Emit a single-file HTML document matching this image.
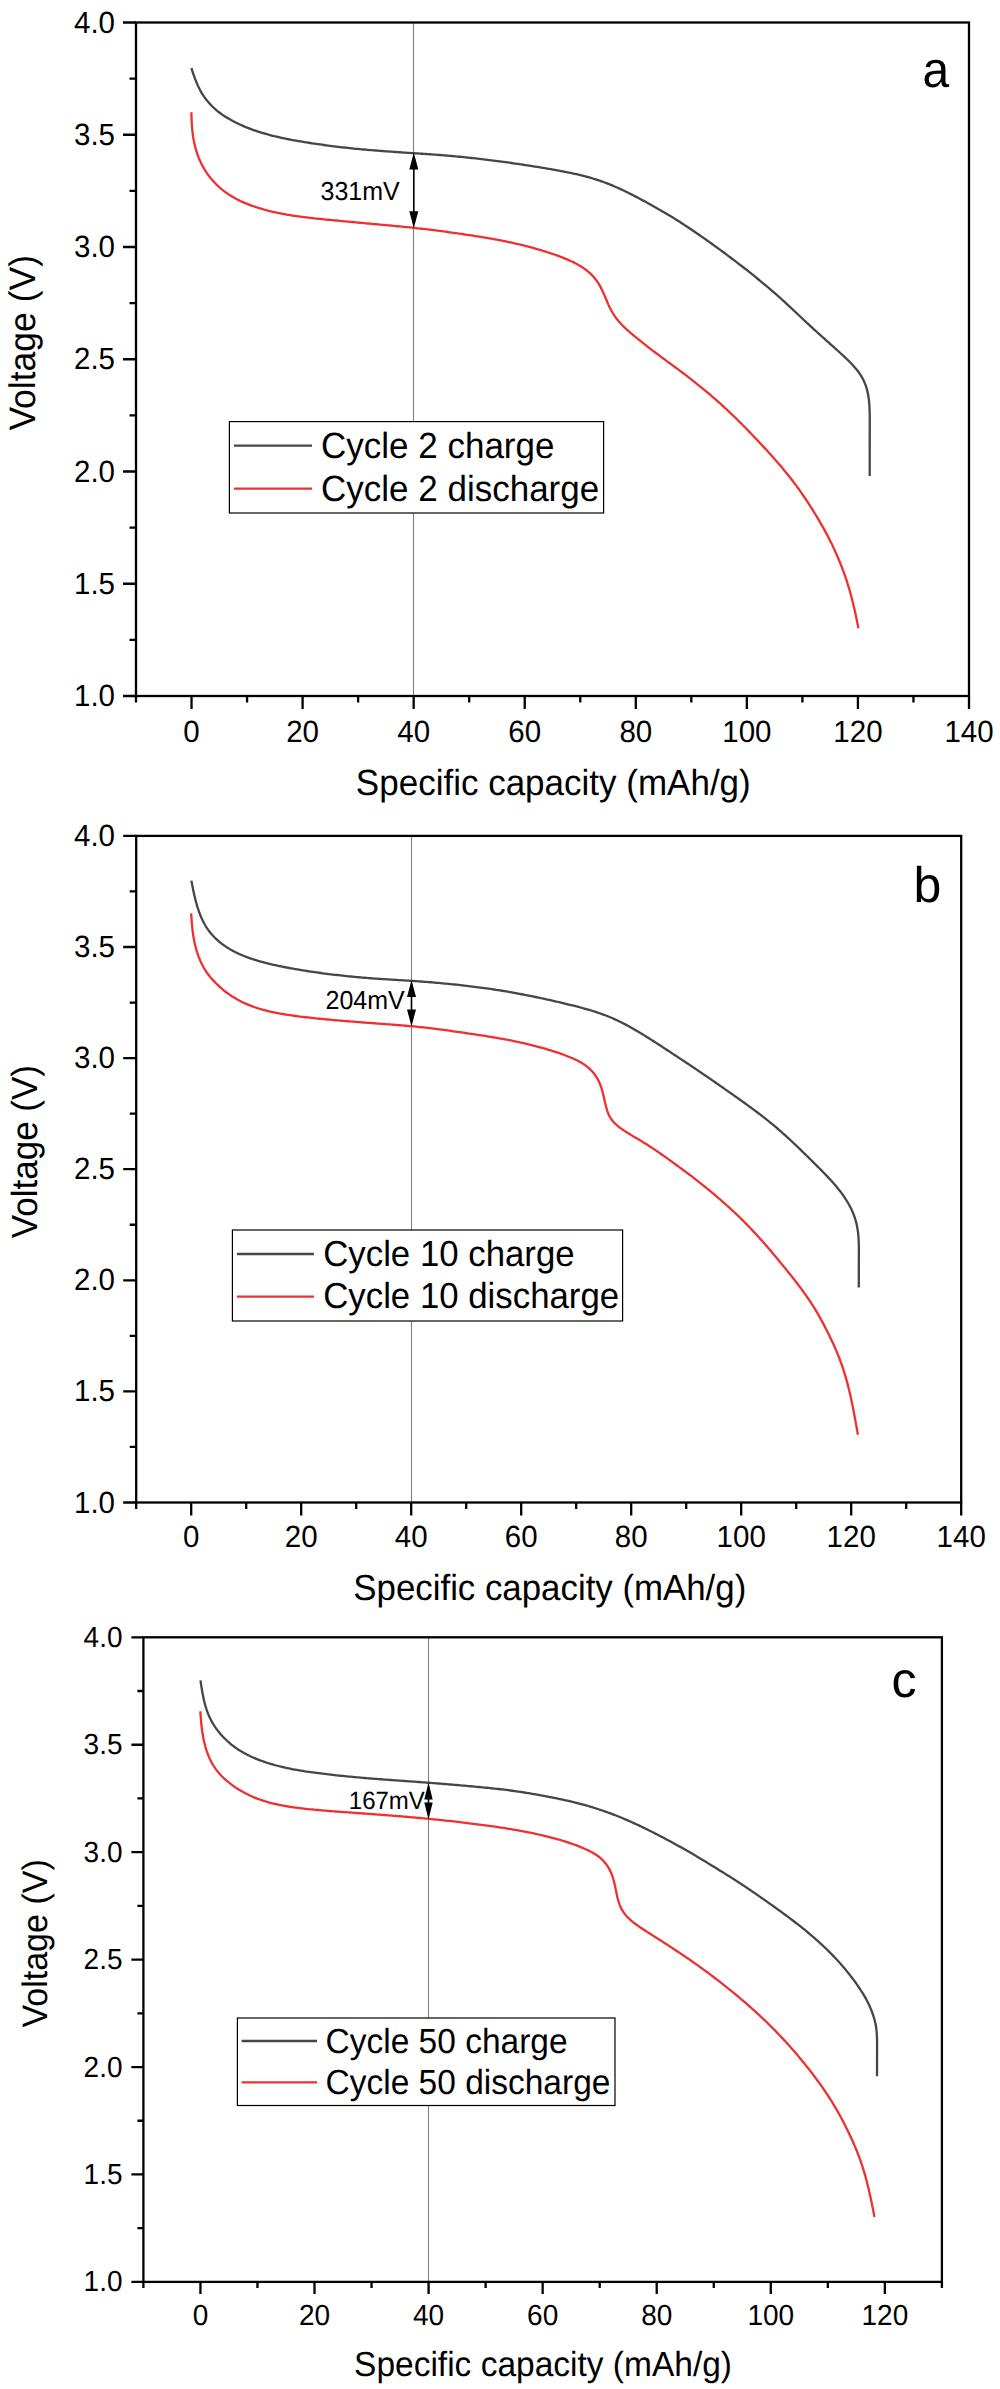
<!DOCTYPE html>
<html><head><meta charset="utf-8"><style>
html,body{margin:0;padding:0;background:#fff;}
body{width:1000px;height:2389px;overflow:hidden;font-family:"Liberation Sans", sans-serif;}
svg{display:block;}
</style></head><body>
<svg width="1000" height="2389" viewBox="0 0 1000 2389" font-family='"Liberation Sans", sans-serif' fill="#000" text-rendering="geometricPrecision">
<rect width="1000" height="2389" fill="#fff"/>
<line x1="413.5" y1="22.5" x2="413.5" y2="696" stroke="#808080" stroke-width="1.1"/>
<path d="M191.35,68.02L191.98,69.94L192.62,71.85L193.26,73.76L193.93,75.66L194.60,77.55L195.31,79.43L196.04,81.29L196.80,83.14L197.59,84.98L198.43,86.79L199.31,88.58L200.23,90.34L201.20,92.08L202.23,93.79L203.30,95.47L204.43,97.12L205.60,98.73L206.82,100.31L208.08,101.86L209.39,103.37L210.75,104.84L212.14,106.27L213.58,107.65L215.05,108.99L216.57,110.29L218.12,111.55L219.70,112.76L221.31,113.94L222.96,115.08L224.62,116.19L226.31,117.27L228.02,118.31L229.75,119.32L231.50,120.30L233.27,121.26L235.05,122.18L236.84,123.08L238.65,123.95L240.47,124.80L242.30,125.62L244.14,126.42L246.00,127.19L247.86,127.94L249.73,128.66L251.61,129.37L253.50,130.05L255.40,130.70L257.31,131.34L259.22,131.96L261.13,132.55L263.06,133.13L264.98,133.69L266.92,134.23L268.85,134.76L270.80,135.27L272.74,135.77L274.69,136.25L276.64,136.72L278.59,137.17L280.55,137.61L282.51,138.04L284.47,138.46L286.44,138.86L288.40,139.25L290.37,139.64L292.34,140.01L294.32,140.37L296.29,140.72L298.26,141.07L300.24,141.40L302.22,141.73L304.20,142.06L306.18,142.37L308.16,142.69L310.14,142.99L312.12,143.29L314.10,143.59L316.08,143.88L318.07,144.17L320.05,144.45L322.03,144.73L324.02,145.01L326.00,145.28L327.99,145.55L329.98,145.81L331.96,146.07L333.95,146.32L335.94,146.57L337.93,146.81L339.92,147.05L341.90,147.28L343.89,147.51L345.89,147.73L347.88,147.95L349.87,148.17L351.86,148.37L353.85,148.58L355.85,148.78L357.84,148.97L359.83,149.16L361.83,149.34L363.82,149.52L365.82,149.70L367.81,149.87L369.81,150.04L371.80,150.21L373.80,150.37L375.80,150.52L377.80,150.68L379.79,150.83L381.79,150.98L383.79,151.13L385.79,151.28L387.78,151.43L389.78,151.57L391.78,151.71L393.78,151.85L395.78,151.99L397.78,152.13L399.77,152.26L401.77,152.40L403.77,152.53L405.77,152.67L407.77,152.80L409.77,152.93L411.77,153.07L413.77,153.20L415.77,153.33L417.76,153.46L419.76,153.59L421.76,153.73L423.76,153.86L425.76,154.00L427.76,154.13L429.76,154.27L431.76,154.41L433.75,154.56L435.75,154.70L437.75,154.85L439.75,155.01L441.74,155.16L443.74,155.32L445.73,155.49L447.73,155.66L449.73,155.83L451.72,156.01L453.72,156.19L455.71,156.37L457.70,156.56L459.70,156.76L461.69,156.96L463.68,157.16L465.68,157.36L467.67,157.57L469.66,157.79L471.65,158.00L473.64,158.22L475.63,158.45L477.62,158.68L479.61,158.91L481.60,159.14L483.59,159.38L485.58,159.62L487.57,159.86L489.55,160.11L491.54,160.36L493.53,160.61L495.52,160.87L497.50,161.12L499.49,161.38L501.47,161.65L503.46,161.91L505.45,162.18L507.43,162.46L509.41,162.73L511.40,163.01L513.38,163.29L515.37,163.57L517.35,163.86L519.33,164.15L521.31,164.44L523.29,164.74L525.28,165.04L527.26,165.34L529.24,165.65L531.22,165.96L533.20,166.27L535.18,166.59L537.16,166.91L539.13,167.23L541.11,167.55L543.09,167.88L545.07,168.22L547.04,168.56L549.02,168.90L551.00,169.24L552.97,169.59L554.94,169.94L556.92,170.30L558.89,170.66L560.86,171.02L562.83,171.40L564.80,171.77L566.77,172.16L568.73,172.56L570.69,172.96L572.65,173.38L574.61,173.80L576.57,174.24L578.52,174.69L580.46,175.15L582.41,175.63L584.34,176.13L586.28,176.64L588.21,177.16L590.13,177.70L592.05,178.26L593.96,178.84L595.87,179.44L597.77,180.06L599.67,180.69L601.55,181.35L603.44,182.02L605.31,182.71L607.18,183.42L609.04,184.15L610.89,184.90L612.74,185.66L614.58,186.44L616.42,187.24L618.25,188.05L620.07,188.87L621.88,189.71L623.69,190.57L625.50,191.44L627.30,192.32L629.09,193.21L630.88,194.11L632.67,195.02L634.45,195.94L636.23,196.86L638.00,197.80L639.77,198.74L641.54,199.68L643.31,200.63L645.07,201.59L646.83,202.55L648.59,203.51L650.35,204.48L652.11,205.45L653.86,206.42L655.61,207.40L657.35,208.39L659.09,209.38L660.83,210.38L662.57,211.38L664.30,212.39L666.02,213.41L667.74,214.44L669.46,215.47L671.17,216.51L672.87,217.56L674.57,218.62L676.27,219.69L677.96,220.76L679.65,221.84L681.33,222.92L683.01,224.02L684.68,225.11L686.36,226.22L688.02,227.33L689.69,228.44L691.35,229.56L693.01,230.68L694.67,231.81L696.32,232.94L697.97,234.07L699.62,235.21L701.26,236.36L702.91,237.50L704.55,238.65L706.18,239.81L707.82,240.96L709.45,242.12L711.08,243.29L712.71,244.46L714.34,245.63L715.96,246.80L717.58,247.98L719.20,249.16L720.82,250.34L722.43,251.53L724.04,252.72L725.65,253.91L727.26,255.11L728.86,256.31L730.47,257.51L732.07,258.72L733.67,259.92L735.26,261.13L736.85,262.35L738.45,263.57L740.03,264.79L741.62,266.01L743.20,267.24L744.78,268.48L746.35,269.72L747.92,270.96L749.49,272.20L751.06,273.45L752.62,274.71L754.18,275.96L755.73,277.22L757.29,278.49L758.84,279.75L760.39,281.02L761.93,282.30L763.48,283.57L765.02,284.85L766.56,286.13L768.09,287.42L769.62,288.71L771.14,290.01L772.66,291.31L774.18,292.62L775.69,293.93L777.19,295.25L778.69,296.58L780.18,297.92L781.66,299.26L783.14,300.61L784.62,301.96L786.09,303.31L787.56,304.67L789.02,306.04L790.49,307.40L791.95,308.77L793.41,310.14L794.87,311.51L796.32,312.89L797.78,314.26L799.24,315.63L800.70,317.00L802.16,318.37L803.62,319.74L805.08,321.11L806.55,322.48L808.01,323.84L809.48,325.21L810.95,326.57L812.43,327.92L813.91,329.28L815.39,330.63L816.87,331.98L818.36,333.32L819.85,334.67L821.34,336.01L822.83,337.35L824.33,338.69L825.83,340.03L827.32,341.37L828.83,342.71L830.33,344.05L831.83,345.39L833.33,346.73L834.83,348.08L836.33,349.42L837.83,350.77L839.33,352.12L840.82,353.48L842.30,354.84L843.78,356.21L845.25,357.59L846.71,358.98L848.16,360.38L849.59,361.79L850.99,363.22L852.37,364.67L853.72,366.15L855.04,367.64L856.32,369.17L857.55,370.72L858.74,372.31L859.87,373.93L860.95,375.59L861.96,377.28L862.91,379.01L863.78,380.78L864.58,382.58L865.31,384.41L865.97,386.26L866.57,388.15L867.10,390.06L867.57,391.98L867.98,393.93L868.33,395.89L868.63,397.87L868.89,399.85L869.10,401.85L869.27,403.86L869.41,405.87L869.51,407.89L869.60,409.91L869.66,411.93L869.71,413.96L869.76,415.99L869.70,476.00" fill="none" stroke="#464646" stroke-width="2.3" stroke-linejoin="round"/>
<path d="M191.36,112.20L191.42,114.21L191.48,116.22L191.55,118.23L191.62,120.23L191.72,122.24L191.83,124.24L191.97,126.24L192.12,128.24L192.31,130.23L192.52,132.22L192.77,134.21L193.04,136.19L193.36,138.16L193.70,140.13L194.09,142.09L194.51,144.04L194.97,145.99L195.47,147.92L196.01,149.84L196.60,151.75L197.22,153.64L197.89,155.52L198.59,157.38L199.35,159.23L200.14,161.06L200.98,162.87L201.87,164.65L202.80,166.42L203.77,168.15L204.80,169.87L205.87,171.55L206.98,173.21L208.14,174.84L209.35,176.43L210.59,178.00L211.87,179.54L213.19,181.04L214.55,182.51L215.94,183.95L217.37,185.35L218.84,186.72L220.33,188.05L221.86,189.34L223.42,190.59L225.01,191.81L226.63,192.98L228.28,194.12L229.95,195.21L231.65,196.27L233.37,197.29L235.11,198.27L236.88,199.21L238.66,200.12L240.45,201.00L242.27,201.84L244.09,202.65L245.93,203.43L247.79,204.17L249.65,204.89L251.53,205.59L253.42,206.26L255.31,206.90L257.21,207.52L259.12,208.12L261.04,208.70L262.96,209.26L264.89,209.79L266.83,210.31L268.77,210.81L270.71,211.29L272.66,211.76L274.62,212.20L276.57,212.63L278.53,213.04L280.50,213.44L282.46,213.82L284.43,214.19L286.41,214.54L288.38,214.88L290.36,215.21L292.33,215.52L294.31,215.82L296.30,216.11L298.28,216.39L300.26,216.66L302.25,216.92L304.23,217.18L306.22,217.42L308.21,217.66L310.20,217.88L312.19,218.11L314.18,218.32L316.17,218.53L318.16,218.74L320.15,218.95L322.14,219.15L324.13,219.35L326.12,219.54L328.12,219.74L330.11,219.93L332.10,220.13L334.09,220.32L336.08,220.51L338.07,220.70L340.07,220.89L342.06,221.08L344.05,221.27L346.04,221.46L348.03,221.65L350.02,221.84L352.02,222.02L354.01,222.21L356.00,222.40L357.99,222.59L359.98,222.77L361.97,222.96L363.97,223.14L365.96,223.33L367.95,223.51L369.94,223.69L371.93,223.88L373.93,224.06L375.92,224.24L377.91,224.42L379.90,224.60L381.90,224.78L383.89,224.96L385.88,225.14L387.87,225.32L389.86,225.50L391.86,225.68L393.85,225.87L395.84,226.06L397.83,226.25L399.82,226.44L401.81,226.63L403.80,226.83L405.79,227.03L407.78,227.23L409.77,227.44L411.76,227.65L413.75,227.86L415.74,228.08L417.73,228.30L419.72,228.52L421.70,228.75L423.69,228.98L425.68,229.21L427.66,229.45L429.65,229.69L431.63,229.93L433.62,230.18L435.60,230.43L437.59,230.69L439.57,230.94L441.56,231.20L443.54,231.46L445.52,231.73L447.50,232.00L449.49,232.27L451.47,232.55L453.45,232.83L455.43,233.11L457.41,233.39L459.39,233.67L461.37,233.96L463.35,234.25L465.33,234.54L467.31,234.84L469.29,235.13L471.26,235.43L473.24,235.73L475.22,236.03L477.19,236.34L479.17,236.65L481.15,236.97L483.12,237.29L485.09,237.62L487.07,237.95L489.04,238.29L491.01,238.63L492.98,238.98L494.94,239.34L496.91,239.71L498.88,240.08L500.84,240.46L502.80,240.85L504.76,241.24L506.72,241.65L508.68,242.06L510.64,242.48L512.59,242.91L514.55,243.35L516.50,243.79L518.45,244.25L520.40,244.71L522.35,245.19L524.29,245.67L526.23,246.16L528.18,246.67L530.12,247.18L532.06,247.70L533.99,248.23L535.93,248.77L537.86,249.32L539.79,249.88L541.72,250.45L543.64,251.04L545.56,251.63L547.48,252.24L549.40,252.85L551.31,253.48L553.22,254.12L555.12,254.78L557.02,255.45L558.91,256.13L560.79,256.84L562.66,257.56L564.53,258.31L566.38,259.08L568.22,259.87L570.05,260.68L571.86,261.53L573.66,262.40L575.44,263.30L577.20,264.24L578.94,265.21L580.65,266.23L582.33,267.29L583.99,268.40L585.60,269.57L587.18,270.78L588.70,272.05L590.18,273.38L591.60,274.77L592.97,276.21L594.27,277.70L595.51,279.25L596.69,280.84L597.81,282.48L598.87,284.16L599.87,285.87L600.83,287.62L601.74,289.40L602.61,291.20L603.45,293.02L604.26,294.85L605.06,296.70L605.84,298.55L606.63,300.41L607.41,302.26L608.21,304.10L609.04,305.93L609.89,307.73L610.79,309.52L611.74,311.27L612.73,312.99L613.78,314.68L614.89,316.33L616.05,317.94L617.26,319.51L618.51,321.05L619.82,322.55L621.16,324.01L622.54,325.45L623.95,326.85L625.38,328.23L626.85,329.59L628.33,330.93L629.83,332.26L631.35,333.56L632.88,334.86L634.42,336.15L635.97,337.43L637.52,338.70L639.08,339.96L640.65,341.22L642.22,342.47L643.79,343.72L645.37,344.96L646.95,346.20L648.53,347.43L650.12,348.65L651.72,349.87L653.31,351.08L654.91,352.29L656.52,353.49L658.13,354.69L659.74,355.88L661.35,357.07L662.96,358.26L664.58,359.44L666.19,360.63L667.81,361.81L669.42,362.99L671.03,364.18L672.65,365.36L674.26,366.54L675.87,367.73L677.48,368.92L679.09,370.11L680.69,371.31L682.29,372.51L683.89,373.71L685.48,374.92L687.07,376.14L688.66,377.35L690.24,378.58L691.82,379.81L693.39,381.04L694.96,382.28L696.53,383.53L698.09,384.78L699.64,386.03L701.19,387.29L702.74,388.56L704.28,389.83L705.82,391.11L707.35,392.39L708.88,393.68L710.41,394.98L711.92,396.28L713.44,397.59L714.95,398.90L716.45,400.22L717.95,401.54L719.44,402.87L720.93,404.21L722.41,405.55L723.89,406.90L725.36,408.26L726.83,409.61L728.29,410.98L729.75,412.35L731.20,413.73L732.64,415.11L734.08,416.50L735.52,417.89L736.95,419.29L738.37,420.70L739.79,422.11L741.20,423.52L742.62,424.94L744.02,426.36L745.42,427.79L746.82,429.22L748.22,430.66L749.61,432.10L750.99,433.54L752.38,434.98L753.76,436.43L755.14,437.88L756.52,439.33L757.89,440.79L759.26,442.25L760.63,443.71L762.00,445.17L763.36,446.64L764.72,448.11L766.07,449.58L767.42,451.06L768.77,452.54L770.11,454.02L771.45,455.51L772.78,457.01L774.11,458.50L775.43,460.01L776.75,461.51L778.06,463.03L779.36,464.54L780.66,466.07L781.95,467.60L783.23,469.13L784.51,470.67L785.78,472.22L787.04,473.77L788.29,475.33L789.53,476.89L790.77,478.46L792.00,480.04L793.21,481.63L794.42,483.22L795.62,484.82L796.81,486.43L797.99,488.04L799.15,489.67L800.31,491.30L801.46,492.93L802.60,494.58L803.73,496.23L804.85,497.88L805.97,499.55L807.07,501.21L808.17,502.89L809.26,504.57L810.34,506.25L811.42,507.94L812.48,509.63L813.54,511.33L814.60,513.03L815.64,514.74L816.68,516.45L817.71,518.17L818.73,519.89L819.75,521.62L820.75,523.35L821.75,525.08L822.73,526.83L823.71,528.57L824.67,530.33L825.63,532.08L826.58,533.85L827.51,535.62L828.43,537.39L829.35,539.17L830.25,540.96L831.14,542.75L832.02,544.55L832.88,546.35L833.74,548.16L834.58,549.98L835.41,551.79L836.23,553.62L837.03,555.45L837.83,557.29L838.61,559.13L839.38,560.97L840.13,562.82L840.87,564.68L841.60,566.54L842.32,568.41L843.02,570.28L843.71,572.16L844.38,574.04L845.05,575.92L845.70,577.81L846.33,579.71L846.95,581.61L847.56,583.51L848.16,585.42L848.74,587.33L849.31,589.25L849.86,591.17L850.41,593.09L850.94,595.02L851.46,596.95L851.96,598.89L852.46,600.82L852.94,602.76L853.41,604.71L853.87,606.66L854.31,608.60L854.75,610.56L855.18,612.51L855.60,614.47L856.02,616.43L856.42,618.39L856.83,620.35L857.23,622.31L857.62,624.27L858.02,626.23L858.41,628.20" fill="none" stroke="#ef3030" stroke-width="2.3" stroke-linejoin="round"/>
<rect x="136" y="22.5" width="833" height="673.5" fill="none" stroke="#000" stroke-width="2.3"/>
<path d="M136,696v6.5 M191.53,696v13 M247.07,696v6.5 M302.6,696v13 M358.13,696v6.5 M413.67,696v13 M469.2,696v6.5 M524.73,696v13 M580.27,696v6.5 M635.8,696v13 M691.33,696v6.5 M746.87,696v13 M802.4,696v6.5 M857.93,696v13 M913.47,696v6.5 M969,696v13 M136,696h-13 M136,639.88h-6.5 M136,583.75h-13 M136,527.62h-6.5 M136,471.5h-13 M136,415.38h-6.5 M136,359.25h-13 M136,303.12h-6.5 M136,247h-13 M136,190.88h-6.5 M136,134.75h-13 M136,78.62h-6.5 M136,22.5h-13" stroke="#000" stroke-width="2.3" fill="none"/>
<text transform="translate(191.53,741.5) scale(1,1.04)" font-size="29.5" text-anchor="middle">0</text>
<text transform="translate(302.6,741.5) scale(1,1.04)" font-size="29.5" text-anchor="middle">20</text>
<text transform="translate(413.67,741.5) scale(1,1.04)" font-size="29.5" text-anchor="middle">40</text>
<text transform="translate(524.73,741.5) scale(1,1.04)" font-size="29.5" text-anchor="middle">60</text>
<text transform="translate(635.8,741.5) scale(1,1.04)" font-size="29.5" text-anchor="middle">80</text>
<text transform="translate(746.87,741.5) scale(1,1.04)" font-size="29.5" text-anchor="middle">100</text>
<text transform="translate(857.93,741.5) scale(1,1.04)" font-size="29.5" text-anchor="middle">120</text>
<text transform="translate(969,741.5) scale(1,1.04)" font-size="29.5" text-anchor="middle">140</text>
<text transform="translate(115,706) scale(1,1.04)" font-size="29.5" text-anchor="end">1.0</text>
<text transform="translate(115,593.75) scale(1,1.04)" font-size="29.5" text-anchor="end">1.5</text>
<text transform="translate(115,481.5) scale(1,1.04)" font-size="29.5" text-anchor="end">2.0</text>
<text transform="translate(115,369.25) scale(1,1.04)" font-size="29.5" text-anchor="end">2.5</text>
<text transform="translate(115,257) scale(1,1.04)" font-size="29.5" text-anchor="end">3.0</text>
<text transform="translate(115,144.75) scale(1,1.04)" font-size="29.5" text-anchor="end">3.5</text>
<text transform="translate(115,32.5) scale(1,1.04)" font-size="29.5" text-anchor="end">4.0</text>
<text transform="translate(553.3,795) scale(1,1.04)" font-size="35" text-anchor="middle">Specific capacity (mAh/g)</text>
<text transform="translate(35,342.8) rotate(-90) scale(1,1.04)" font-size="35.5" text-anchor="middle">Voltage (V)</text>
<text transform="translate(922.5,87.3) scale(1,1.06)" font-size="48">a</text>
<line x1="413.8" y1="168.6" x2="413.8" y2="212.2" stroke="#000" stroke-width="1.6"/>
<path d="M413.8,152.6 L409.3,169.6 L418.3,169.6Z M413.8,228.2 L409.3,211.2 L418.3,211.2Z" fill="#000"/>
<text transform="translate(320.5,199.6) scale(1,1.04)" font-size="25">331mV</text>
<rect x="229.4" y="421.6" width="374.2" height="91.4" fill="#fff" stroke="#000" stroke-width="1.2"/>
<line x1="234" y1="445.6" x2="312" y2="445.6" stroke="#464646" stroke-width="2.3"/>
<line x1="234" y1="488.6" x2="312" y2="488.6" stroke="#ef3030" stroke-width="2.3"/>
<text transform="translate(321,458) scale(1,1.04)" font-size="35">Cycle 2 charge</text>
<text transform="translate(321,501) scale(1,1.04)" font-size="35">Cycle 2 discharge</text>
<line x1="411.5" y1="835.9" x2="411.5" y2="1502.5" stroke="#808080" stroke-width="1.1"/>
<path d="M191.37,880.61L191.75,882.59L192.13,884.57L192.52,886.54L192.91,888.52L193.31,890.49L193.73,892.46L194.16,894.43L194.61,896.39L195.08,898.35L195.56,900.30L196.08,902.25L196.62,904.18L197.18,906.11L197.78,908.02L198.41,909.93L199.07,911.82L199.76,913.69L200.49,915.55L201.27,917.39L202.08,919.21L202.94,921.01L203.84,922.78L204.80,924.53L205.80,926.24L206.86,927.93L207.98,929.57L209.15,931.18L210.38,932.75L211.66,934.28L212.99,935.76L214.38,937.20L215.81,938.60L217.28,939.96L218.79,941.28L220.33,942.56L221.90,943.81L223.50,945.01L225.13,946.17L226.79,947.29L228.47,948.36L230.19,949.38L231.93,950.37L233.69,951.31L235.47,952.21L237.27,953.08L239.09,953.92L240.92,954.72L242.77,955.50L244.63,956.25L246.50,956.97L248.38,957.66L250.27,958.33L252.17,958.98L254.08,959.61L256.00,960.21L257.92,960.80L259.84,961.36L261.78,961.90L263.71,962.43L265.66,962.94L267.60,963.43L269.55,963.90L271.51,964.36L273.46,964.81L275.42,965.24L277.38,965.66L279.35,966.07L281.31,966.48L283.28,966.87L285.25,967.25L287.22,967.63L289.19,968.00L291.16,968.36L293.13,968.71L295.11,969.06L297.08,969.40L299.06,969.73L301.03,970.06L303.01,970.38L304.99,970.70L306.97,971.01L308.95,971.31L310.93,971.61L312.91,971.90L314.89,972.19L316.88,972.47L318.86,972.74L320.84,973.01L322.83,973.28L324.81,973.54L326.80,973.79L328.79,974.04L330.77,974.29L332.76,974.53L334.75,974.77L336.74,975.00L338.73,975.23L340.72,975.45L342.71,975.67L344.70,975.88L346.69,976.09L348.68,976.30L350.68,976.50L352.67,976.69L354.66,976.88L356.65,977.07L358.65,977.25L360.64,977.43L362.64,977.60L364.63,977.77L366.63,977.93L368.62,978.09L370.62,978.25L372.62,978.40L374.61,978.55L376.61,978.69L378.61,978.83L380.61,978.96L382.60,979.09L384.60,979.22L386.60,979.35L388.60,979.47L390.60,979.59L392.60,979.71L394.60,979.83L396.59,979.95L398.59,980.06L400.59,980.18L402.59,980.29L404.59,980.41L406.59,980.53L408.59,980.66L410.58,980.78L412.58,980.91L414.58,981.05L416.58,981.19L418.57,981.33L420.57,981.48L422.57,981.63L424.56,981.79L426.56,981.94L428.55,982.11L430.55,982.27L432.54,982.44L434.54,982.61L436.53,982.79L438.53,982.97L440.52,983.15L442.52,983.33L444.51,983.52L446.50,983.71L448.50,983.90L450.49,984.09L452.48,984.29L454.47,984.50L456.47,984.71L458.46,984.92L460.45,985.13L462.44,985.36L464.43,985.58L466.42,985.81L468.40,986.04L470.39,986.28L472.38,986.53L474.37,986.77L476.35,987.02L478.34,987.28L480.33,987.54L482.31,987.81L484.29,988.08L486.28,988.35L488.26,988.64L490.24,988.92L492.22,989.21L494.20,989.51L496.18,989.81L498.16,990.12L500.14,990.43L502.11,990.75L504.09,991.07L506.06,991.41L508.04,991.74L510.01,992.08L511.98,992.43L513.95,992.78L515.92,993.14L517.89,993.51L519.86,993.87L521.83,994.25L523.79,994.63L525.76,995.01L527.72,995.40L529.69,995.79L531.65,996.19L533.61,996.59L535.57,997.00L537.53,997.41L539.49,997.83L541.45,998.25L543.41,998.67L545.37,999.10L547.32,999.53L549.28,999.97L551.23,1000.40L553.19,1000.85L555.14,1001.30L557.10,1001.75L559.05,1002.20L561.00,1002.66L562.95,1003.12L564.90,1003.59L566.85,1004.06L568.80,1004.53L570.74,1005.01L572.69,1005.49L574.63,1005.98L576.57,1006.48L578.51,1006.98L580.45,1007.49L582.39,1008.01L584.32,1008.54L586.25,1009.07L588.17,1009.62L590.09,1010.19L592.01,1010.76L593.92,1011.36L595.82,1011.96L597.72,1012.59L599.61,1013.23L601.49,1013.90L603.37,1014.58L605.23,1015.29L607.09,1016.01L608.94,1016.76L610.78,1017.52L612.62,1018.31L614.44,1019.12L616.26,1019.95L618.06,1020.80L619.86,1021.67L621.65,1022.56L623.43,1023.46L625.20,1024.39L626.96,1025.32L628.72,1026.28L630.47,1027.25L632.22,1028.23L633.95,1029.22L635.69,1030.22L637.41,1031.24L639.13,1032.26L640.85,1033.30L642.56,1034.34L644.27,1035.39L645.97,1036.44L647.67,1037.51L649.37,1038.57L651.06,1039.65L652.75,1040.72L654.44,1041.81L656.13,1042.89L657.81,1043.98L659.49,1045.07L661.17,1046.16L662.85,1047.26L664.53,1048.35L666.21,1049.45L667.89,1050.54L669.56,1051.64L671.24,1052.74L672.91,1053.84L674.59,1054.94L676.26,1056.04L677.93,1057.14L679.61,1058.25L681.28,1059.35L682.95,1060.45L684.62,1061.56L686.29,1062.67L687.95,1063.78L689.62,1064.89L691.28,1066.00L692.95,1067.11L694.61,1068.23L696.27,1069.35L697.93,1070.47L699.58,1071.60L701.24,1072.73L702.89,1073.86L704.54,1074.99L706.19,1076.12L707.84,1077.26L709.49,1078.39L711.14,1079.53L712.78,1080.67L714.43,1081.81L716.08,1082.95L717.72,1084.10L719.36,1085.24L721.01,1086.38L722.65,1087.53L724.29,1088.68L725.93,1089.82L727.57,1090.97L729.21,1092.12L730.85,1093.27L732.49,1094.42L734.13,1095.58L735.77,1096.73L737.40,1097.89L739.03,1099.05L740.67,1100.21L742.29,1101.38L743.92,1102.55L745.55,1103.72L747.17,1104.89L748.79,1106.07L750.40,1107.25L752.01,1108.44L753.62,1109.63L755.23,1110.83L756.83,1112.03L758.43,1113.24L760.02,1114.45L761.61,1115.67L763.19,1116.90L764.77,1118.13L766.34,1119.36L767.90,1120.61L769.46,1121.86L771.02,1123.12L772.56,1124.39L774.10,1125.67L775.63,1126.96L777.16,1128.25L778.67,1129.56L780.18,1130.87L781.68,1132.19L783.18,1133.52L784.67,1134.86L786.15,1136.20L787.63,1137.55L789.10,1138.91L790.57,1140.27L792.03,1141.64L793.49,1143.01L794.95,1144.39L796.40,1145.77L797.84,1147.15L799.29,1148.54L800.73,1149.94L802.17,1151.33L803.61,1152.73L805.04,1154.13L806.47,1155.53L807.91,1156.93L809.34,1158.34L810.77,1159.75L812.19,1161.16L813.62,1162.57L815.05,1163.98L816.47,1165.40L817.89,1166.82L819.30,1168.24L820.71,1169.67L822.12,1171.10L823.52,1172.53L824.92,1173.98L826.31,1175.42L827.69,1176.88L829.06,1178.34L830.42,1179.82L831.76,1181.30L833.10,1182.80L834.41,1184.30L835.72,1185.82L837.00,1187.36L838.27,1188.91L839.51,1190.48L840.73,1192.06L841.93,1193.66L843.10,1195.28L844.24,1196.93L845.35,1198.59L846.44,1200.28L847.48,1201.98L848.49,1203.71L849.46,1205.46L850.39,1207.24L851.28,1209.03L852.12,1210.85L852.92,1212.68L853.66,1214.54L854.35,1216.41L854.99,1218.31L855.57,1220.22L856.10,1222.14L856.57,1224.08L856.99,1226.04L857.36,1228.00L857.68,1229.97L857.95,1231.95L858.18,1233.94L858.37,1235.93L858.52,1237.92L858.64,1239.92L858.73,1241.92L858.79,1243.93L858.84,1245.93L858.86,1247.94L858.87,1249.95L858.87,1251.96L858.86,1253.97L858.85,1255.99L858.83,1258.00L858.80,1287.50" fill="none" stroke="#464646" stroke-width="2.3" stroke-linejoin="round"/>
<path d="M191.16,913.40L191.29,915.41L191.42,917.42L191.55,919.42L191.70,921.43L191.86,923.43L192.03,925.43L192.22,927.43L192.44,929.43L192.68,931.42L192.95,933.41L193.24,935.39L193.56,937.37L193.92,939.34L194.30,941.30L194.72,943.26L195.17,945.21L195.66,947.15L196.18,949.08L196.74,951.00L197.34,952.91L197.98,954.80L198.66,956.68L199.38,958.54L200.15,960.39L200.96,962.21L201.82,964.01L202.73,965.79L203.69,967.54L204.71,969.26L205.77,970.95L206.90,972.60L208.07,974.22L209.29,975.81L210.55,977.36L211.85,978.89L213.19,980.38L214.57,981.85L215.97,983.28L217.41,984.68L218.87,986.06L220.36,987.41L221.87,988.72L223.42,990.01L224.98,991.27L226.57,992.49L228.18,993.68L229.82,994.84L231.48,995.96L233.16,997.04L234.87,998.09L236.60,999.11L238.34,1000.08L240.11,1001.02L241.89,1001.92L243.69,1002.79L245.51,1003.62L247.34,1004.41L249.19,1005.17L251.05,1005.90L252.93,1006.60L254.81,1007.26L256.71,1007.90L258.61,1008.50L260.53,1009.08L262.46,1009.63L264.39,1010.16L266.33,1010.66L268.27,1011.14L270.23,1011.59L272.18,1012.03L274.15,1012.44L276.11,1012.84L278.08,1013.21L280.06,1013.58L282.03,1013.92L284.01,1014.25L285.99,1014.57L287.98,1014.88L289.96,1015.18L291.95,1015.46L293.94,1015.74L295.93,1016.01L297.92,1016.27L299.91,1016.52L301.90,1016.77L303.89,1017.01L305.88,1017.24L307.88,1017.47L309.87,1017.70L311.86,1017.91L313.86,1018.13L315.85,1018.34L317.85,1018.54L319.84,1018.74L321.84,1018.94L323.83,1019.13L325.83,1019.32L327.82,1019.51L329.82,1019.69L331.81,1019.87L333.81,1020.05L335.81,1020.23L337.80,1020.40L339.80,1020.57L341.80,1020.74L343.79,1020.91L345.79,1021.07L347.79,1021.24L349.78,1021.40L351.78,1021.56L353.78,1021.72L355.77,1021.88L357.77,1022.03L359.77,1022.19L361.77,1022.34L363.76,1022.50L365.76,1022.65L367.76,1022.80L369.76,1022.95L371.75,1023.10L373.75,1023.25L375.75,1023.40L377.75,1023.55L379.75,1023.70L381.74,1023.85L383.74,1023.99L385.74,1024.14L387.74,1024.29L389.74,1024.44L391.73,1024.60L393.73,1024.75L395.73,1024.91L397.73,1025.07L399.72,1025.23L401.72,1025.39L403.72,1025.56L405.71,1025.73L407.71,1025.91L409.70,1026.09L411.70,1026.27L413.69,1026.46L415.68,1026.65L417.68,1026.85L419.67,1027.05L421.66,1027.26L423.65,1027.47L425.65,1027.69L427.64,1027.91L429.63,1028.14L431.62,1028.37L433.60,1028.61L435.59,1028.85L437.58,1029.10L439.57,1029.36L441.55,1029.62L443.54,1029.88L445.52,1030.15L447.51,1030.43L449.49,1030.71L451.47,1030.99L453.46,1031.27L455.44,1031.56L457.42,1031.85L459.40,1032.14L461.39,1032.43L463.37,1032.72L465.35,1033.01L467.33,1033.30L469.32,1033.59L471.30,1033.88L473.28,1034.18L475.26,1034.47L477.24,1034.77L479.22,1035.07L481.21,1035.37L483.19,1035.67L485.17,1035.98L487.14,1036.29L489.12,1036.60L491.10,1036.93L493.08,1037.25L495.05,1037.59L497.03,1037.93L499.00,1038.27L500.97,1038.63L502.94,1038.98L504.91,1039.35L506.88,1039.72L508.85,1040.10L510.81,1040.49L512.78,1040.88L514.74,1041.28L516.70,1041.69L518.66,1042.10L520.62,1042.53L522.58,1042.96L524.53,1043.41L526.48,1043.86L528.43,1044.32L530.38,1044.79L532.33,1045.28L534.27,1045.77L536.21,1046.28L538.15,1046.79L540.08,1047.32L542.01,1047.85L543.94,1048.40L545.87,1048.96L547.80,1049.53L549.72,1050.11L551.64,1050.70L553.55,1051.30L555.47,1051.92L557.37,1052.55L559.28,1053.20L561.17,1053.86L563.07,1054.54L564.95,1055.24L566.83,1055.96L568.70,1056.70L570.57,1057.47L572.42,1058.26L574.27,1059.07L576.09,1059.93L577.89,1060.83L579.66,1061.77L581.40,1062.76L583.10,1063.81L584.75,1064.92L586.36,1066.10L587.92,1067.34L589.42,1068.65L590.86,1070.03L592.22,1071.48L593.52,1072.98L594.74,1074.55L595.89,1076.18L596.95,1077.86L597.94,1079.59L598.84,1081.36L599.67,1083.18L600.42,1085.03L601.09,1086.91L601.71,1088.81L602.27,1090.75L602.79,1092.70L603.27,1094.66L603.73,1096.63L604.17,1098.62L604.60,1100.60L605.05,1102.57L605.50,1104.54L605.99,1106.50L606.51,1108.44L607.09,1110.35L607.74,1112.23L608.47,1114.06L609.31,1115.83L610.27,1117.53L611.33,1119.17L612.50,1120.73L613.77,1122.21L615.12,1123.62L616.54,1124.96L618.03,1126.24L619.57,1127.46L621.17,1128.64L622.80,1129.78L624.46,1130.89L626.15,1131.97L627.86,1133.04L629.59,1134.09L631.32,1135.14L633.06,1136.18L634.81,1137.21L636.56,1138.25L638.31,1139.28L640.05,1140.33L641.78,1141.38L643.51,1142.44L645.23,1143.51L646.94,1144.59L648.65,1145.68L650.34,1146.78L652.03,1147.88L653.71,1149.00L655.38,1150.12L657.04,1151.25L658.70,1152.39L660.35,1153.54L662.00,1154.69L663.64,1155.85L665.28,1157.01L666.91,1158.18L668.54,1159.34L670.17,1160.52L671.79,1161.69L673.41,1162.87L675.03,1164.05L676.65,1165.23L678.27,1166.41L679.89,1167.59L681.51,1168.78L683.12,1169.96L684.73,1171.15L686.34,1172.35L687.94,1173.54L689.55,1174.74L691.15,1175.95L692.74,1177.16L694.33,1178.37L695.92,1179.59L697.50,1180.82L699.08,1182.05L700.65,1183.29L702.22,1184.53L703.78,1185.78L705.34,1187.04L706.89,1188.31L708.44,1189.58L709.99,1190.85L711.52,1192.14L713.06,1193.43L714.59,1194.72L716.11,1196.02L717.63,1197.32L719.15,1198.63L720.66,1199.94L722.17,1201.26L723.68,1202.58L725.18,1203.91L726.67,1205.25L728.16,1206.58L729.64,1207.93L731.12,1209.28L732.60,1210.64L734.06,1212.00L735.52,1213.37L736.97,1214.75L738.42,1216.14L739.86,1217.53L741.29,1218.93L742.71,1220.34L744.13,1221.76L745.53,1223.18L746.93,1224.61L748.33,1226.05L749.72,1227.50L751.10,1228.95L752.47,1230.40L753.84,1231.87L755.20,1233.34L756.55,1234.81L757.90,1236.29L759.25,1237.78L760.59,1239.27L761.92,1240.76L763.25,1242.26L764.57,1243.77L765.89,1245.28L767.20,1246.79L768.51,1248.31L769.81,1249.83L771.11,1251.36L772.41,1252.89L773.70,1254.42L774.99,1255.96L776.27,1257.49L777.56,1259.03L778.84,1260.58L780.11,1262.12L781.39,1263.67L782.66,1265.22L783.93,1266.77L785.20,1268.32L786.46,1269.88L787.73,1271.44L788.98,1273.00L790.24,1274.56L791.49,1276.13L792.73,1277.70L793.97,1279.28L795.21,1280.86L796.43,1282.44L797.65,1284.03L798.87,1285.62L800.07,1287.23L801.27,1288.83L802.45,1290.45L803.63,1292.07L804.80,1293.70L805.95,1295.33L807.10,1296.97L808.23,1298.62L809.35,1300.28L810.46,1301.95L811.56,1303.62L812.64,1305.30L813.71,1306.99L814.76,1308.69L815.80,1310.40L816.83,1312.12L817.84,1313.84L818.84,1315.58L819.82,1317.32L820.79,1319.07L821.75,1320.83L822.70,1322.59L823.64,1324.36L824.57,1326.14L825.48,1327.92L826.39,1329.71L827.29,1331.50L828.18,1333.29L829.07,1335.09L829.94,1336.89L830.81,1338.70L831.67,1340.51L832.53,1342.32L833.37,1344.14L834.20,1345.96L835.01,1347.79L835.81,1349.62L836.60,1351.46L837.37,1353.31L838.13,1355.16L838.86,1357.02L839.59,1358.88L840.29,1360.75L840.98,1362.63L841.65,1364.51L842.30,1366.40L842.94,1368.30L843.56,1370.20L844.16,1372.11L844.75,1374.02L845.32,1375.94L845.88,1377.86L846.43,1379.78L846.96,1381.71L847.48,1383.65L847.98,1385.58L848.47,1387.52L848.95,1389.47L849.42,1391.42L849.88,1393.37L850.33,1395.32L850.77,1397.27L851.20,1399.23L851.62,1401.19L852.03,1403.15L852.44,1405.12L852.83,1407.08L853.22,1409.05L853.61,1411.02L853.99,1412.99L854.36,1414.96L854.73,1416.93L855.09,1418.90L855.45,1420.87L855.81,1422.85L856.16,1424.82L856.51,1426.80L856.86,1428.77L857.21,1430.75L857.56,1432.72L857.91,1434.70" fill="none" stroke="#ef3030" stroke-width="2.3" stroke-linejoin="round"/>
<rect x="136.2" y="835.9" width="825" height="666.6" fill="none" stroke="#000" stroke-width="2.3"/>
<path d="M136.2,1502.5v6.5 M191.2,1502.5v13 M246.2,1502.5v6.5 M301.2,1502.5v13 M356.2,1502.5v6.5 M411.2,1502.5v13 M466.2,1502.5v6.5 M521.2,1502.5v13 M576.2,1502.5v6.5 M631.2,1502.5v13 M686.2,1502.5v6.5 M741.2,1502.5v13 M796.2,1502.5v6.5 M851.2,1502.5v13 M906.2,1502.5v6.5 M961.2,1502.5v13 M136.2,1502.5h-13 M136.2,1446.95h-6.5 M136.2,1391.4h-13 M136.2,1335.85h-6.5 M136.2,1280.3h-13 M136.2,1224.75h-6.5 M136.2,1169.2h-13 M136.2,1113.65h-6.5 M136.2,1058.1h-13 M136.2,1002.55h-6.5 M136.2,947h-13 M136.2,891.45h-6.5 M136.2,835.9h-13" stroke="#000" stroke-width="2.3" fill="none"/>
<text transform="translate(191.2,1546.5) scale(1,1.04)" font-size="29.5" text-anchor="middle">0</text>
<text transform="translate(301.2,1546.5) scale(1,1.04)" font-size="29.5" text-anchor="middle">20</text>
<text transform="translate(411.2,1546.5) scale(1,1.04)" font-size="29.5" text-anchor="middle">40</text>
<text transform="translate(521.2,1546.5) scale(1,1.04)" font-size="29.5" text-anchor="middle">60</text>
<text transform="translate(631.2,1546.5) scale(1,1.04)" font-size="29.5" text-anchor="middle">80</text>
<text transform="translate(741.2,1546.5) scale(1,1.04)" font-size="29.5" text-anchor="middle">100</text>
<text transform="translate(851.2,1546.5) scale(1,1.04)" font-size="29.5" text-anchor="middle">120</text>
<text transform="translate(961.2,1546.5) scale(1,1.04)" font-size="29.5" text-anchor="middle">140</text>
<text transform="translate(115,1512.5) scale(1,1.04)" font-size="29.5" text-anchor="end">1.0</text>
<text transform="translate(115,1401.4) scale(1,1.04)" font-size="29.5" text-anchor="end">1.5</text>
<text transform="translate(115,1290.3) scale(1,1.04)" font-size="29.5" text-anchor="end">2.0</text>
<text transform="translate(115,1179.2) scale(1,1.04)" font-size="29.5" text-anchor="end">2.5</text>
<text transform="translate(115,1068.1) scale(1,1.04)" font-size="29.5" text-anchor="end">3.0</text>
<text transform="translate(115,957) scale(1,1.04)" font-size="29.5" text-anchor="end">3.5</text>
<text transform="translate(115,845.9) scale(1,1.04)" font-size="29.5" text-anchor="end">4.0</text>
<text transform="translate(549.8,1600.2) scale(1,1.04)" font-size="34.85" text-anchor="middle">Specific capacity (mAh/g)</text>
<text transform="translate(37,1151.6) rotate(-90) scale(1,1.04)" font-size="35" text-anchor="middle">Voltage (V)</text>
<text transform="translate(913.5,901.8) scale(1,1.0)" font-size="50">b</text>
<line x1="411.5" y1="996" x2="411.5" y2="1010.4" stroke="#000" stroke-width="1.6"/>
<path d="M411.5,980 L407,997 L416,997Z M411.5,1026.4 L407,1009.4 L416,1009.4Z" fill="#000"/>
<text transform="translate(325.5,1009.3) scale(1,1.04)" font-size="25">204mV</text>
<rect x="232.4" y="1230" width="390.2" height="91" fill="#fff" stroke="#000" stroke-width="1.2"/>
<line x1="237" y1="1254" x2="314" y2="1254" stroke="#464646" stroke-width="2.3"/>
<line x1="237" y1="1296.6" x2="314" y2="1296.6" stroke="#ef3030" stroke-width="2.3"/>
<text transform="translate(323.2,1265.6) scale(1,1.04)" font-size="34.8">Cycle 10 charge</text>
<text transform="translate(323.2,1308) scale(1,1.04)" font-size="34.8">Cycle 10 discharge</text>
<line x1="428.5" y1="1637.3" x2="428.5" y2="2281.9" stroke="#808080" stroke-width="1.1"/>
<path d="M200.47,1680.41L200.77,1682.41L201.07,1684.40L201.38,1686.40L201.70,1688.39L202.04,1690.38L202.38,1692.36L202.75,1694.34L203.14,1696.32L203.55,1698.28L203.99,1700.24L204.46,1702.19L204.96,1704.13L205.49,1706.05L206.07,1707.96L206.68,1709.86L207.34,1711.74L208.05,1713.60L208.80,1715.44L209.61,1717.26L210.47,1719.06L211.38,1720.83L212.35,1722.58L213.36,1724.29L214.44,1725.98L215.56,1727.64L216.72,1729.26L217.94,1730.86L219.19,1732.42L220.49,1733.95L221.82,1735.46L223.19,1736.93L224.59,1738.37L226.03,1739.77L227.49,1741.15L228.98,1742.49L230.50,1743.79L232.05,1745.06L233.64,1746.28L235.25,1747.46L236.89,1748.60L238.56,1749.71L240.25,1750.77L241.96,1751.80L243.70,1752.79L245.46,1753.75L247.23,1754.68L249.02,1755.58L250.83,1756.44L252.65,1757.28L254.49,1758.08L256.34,1758.86L258.20,1759.61L260.07,1760.33L261.95,1761.03L263.84,1761.70L265.74,1762.35L267.65,1762.97L269.56,1763.57L271.48,1764.15L273.41,1764.71L275.34,1765.24L277.28,1765.76L279.22,1766.26L281.16,1766.74L283.12,1767.20L285.07,1767.64L287.03,1768.07L288.99,1768.48L290.96,1768.88L292.93,1769.26L294.90,1769.63L296.87,1769.98L298.85,1770.33L300.83,1770.66L302.81,1770.98L304.79,1771.29L306.78,1771.59L308.77,1771.88L310.75,1772.16L312.74,1772.44L314.73,1772.71L316.73,1772.97L318.72,1773.22L320.71,1773.48L322.70,1773.72L324.70,1773.96L326.69,1774.20L328.68,1774.43L330.68,1774.66L332.67,1774.89L334.67,1775.11L336.66,1775.32L338.65,1775.54L340.65,1775.75L342.64,1775.95L344.64,1776.15L346.64,1776.35L348.63,1776.54L350.63,1776.73L352.62,1776.92L354.62,1777.11L356.62,1777.29L358.61,1777.47L360.61,1777.64L362.61,1777.81L364.60,1777.98L366.60,1778.15L368.60,1778.31L370.60,1778.48L372.59,1778.64L374.59,1778.80L376.59,1778.95L378.59,1779.11L380.59,1779.26L382.58,1779.41L384.58,1779.56L386.58,1779.71L388.58,1779.85L390.58,1780.00L392.58,1780.15L394.57,1780.29L396.57,1780.43L398.57,1780.58L400.57,1780.72L402.57,1780.86L404.57,1781.00L406.57,1781.15L408.57,1781.29L410.56,1781.43L412.56,1781.57L414.56,1781.72L416.56,1781.86L418.56,1782.01L420.56,1782.15L422.56,1782.30L424.55,1782.44L426.55,1782.59L428.55,1782.74L430.55,1782.90L432.55,1783.05L434.54,1783.20L436.54,1783.36L438.54,1783.52L440.54,1783.68L442.54,1783.84L444.53,1784.00L446.53,1784.16L448.53,1784.33L450.52,1784.50L452.52,1784.66L454.52,1784.83L456.51,1785.00L458.51,1785.18L460.51,1785.35L462.50,1785.53L464.50,1785.70L466.50,1785.88L468.49,1786.06L470.49,1786.24L472.48,1786.43L474.48,1786.61L476.47,1786.80L478.47,1786.98L480.46,1787.17L482.46,1787.36L484.45,1787.56L486.45,1787.75L488.44,1787.95L490.43,1788.15L492.43,1788.36L494.42,1788.57L496.41,1788.79L498.40,1789.01L500.39,1789.24L502.38,1789.47L504.37,1789.72L506.36,1789.97L508.35,1790.22L510.33,1790.49L512.32,1790.75L514.30,1791.03L516.29,1791.31L518.27,1791.60L520.25,1791.90L522.24,1792.20L524.22,1792.50L526.20,1792.82L528.18,1793.13L530.15,1793.46L532.13,1793.79L534.11,1794.13L536.08,1794.47L538.06,1794.82L540.03,1795.17L542.01,1795.53L543.98,1795.89L545.95,1796.26L547.92,1796.63L549.89,1797.02L551.86,1797.40L553.83,1797.79L555.79,1798.19L557.76,1798.60L559.72,1799.01L561.68,1799.43L563.64,1799.86L565.60,1800.30L567.55,1800.74L569.51,1801.20L571.46,1801.66L573.40,1802.13L575.35,1802.61L577.29,1803.10L579.23,1803.60L581.17,1804.11L583.10,1804.63L585.03,1805.16L586.96,1805.71L588.89,1806.26L590.81,1806.83L592.72,1807.41L594.64,1808.00L596.55,1808.60L598.45,1809.22L600.35,1809.84L602.25,1810.48L604.15,1811.13L606.03,1811.79L607.92,1812.47L609.80,1813.16L611.68,1813.85L613.55,1814.57L615.42,1815.29L617.28,1816.02L619.14,1816.77L620.99,1817.53L622.84,1818.30L624.69,1819.07L626.53,1819.86L628.36,1820.66L630.20,1821.47L632.03,1822.29L633.85,1823.12L635.67,1823.96L637.49,1824.80L639.30,1825.65L641.11,1826.51L642.92,1827.38L644.73,1828.25L646.53,1829.14L648.32,1830.02L650.12,1830.92L651.91,1831.82L653.70,1832.73L655.48,1833.64L657.26,1834.55L659.04,1835.48L660.82,1836.40L662.60,1837.33L664.37,1838.27L666.14,1839.21L667.91,1840.15L669.68,1841.10L671.44,1842.05L673.20,1843.01L674.96,1843.97L676.72,1844.93L678.48,1845.90L680.23,1846.87L681.98,1847.85L683.72,1848.84L685.46,1849.82L687.20,1850.82L688.94,1851.82L690.68,1852.82L692.41,1853.83L694.13,1854.85L695.86,1855.87L697.58,1856.89L699.30,1857.92L701.02,1858.95L702.74,1859.98L704.45,1861.02L706.16,1862.06L707.87,1863.11L709.58,1864.15L711.29,1865.20L713.00,1866.25L714.70,1867.30L716.41,1868.35L718.12,1869.40L719.82,1870.46L721.52,1871.51L723.23,1872.57L724.93,1873.63L726.62,1874.69L728.32,1875.76L730.02,1876.83L731.71,1877.90L733.40,1878.98L735.09,1880.06L736.77,1881.14L738.45,1882.23L740.13,1883.33L741.80,1884.43L743.47,1885.53L745.14,1886.64L746.81,1887.76L748.47,1888.88L750.13,1890.00L751.78,1891.13L753.44,1892.26L755.09,1893.39L756.74,1894.53L758.39,1895.67L760.03,1896.82L761.68,1897.96L763.32,1899.11L764.96,1900.26L766.60,1901.42L768.24,1902.57L769.87,1903.73L771.51,1904.89L773.14,1906.05L774.77,1907.22L776.40,1908.38L778.03,1909.56L779.65,1910.73L781.28,1911.91L782.89,1913.09L784.51,1914.28L786.12,1915.47L787.73,1916.67L789.33,1917.87L790.94,1919.08L792.53,1920.29L794.12,1921.51L795.71,1922.73L797.30,1923.96L798.87,1925.20L800.45,1926.44L802.02,1927.69L803.58,1928.94L805.13,1930.20L806.68,1931.47L808.23,1932.75L809.76,1934.04L811.29,1935.33L812.81,1936.64L814.33,1937.95L815.83,1939.27L817.33,1940.60L818.82,1941.93L820.30,1943.28L821.78,1944.64L823.24,1946.01L824.70,1947.38L826.14,1948.77L827.58,1950.17L829.01,1951.58L830.42,1952.99L831.83,1954.42L833.23,1955.86L834.61,1957.31L835.99,1958.78L837.35,1960.25L838.70,1961.74L840.05,1963.23L841.38,1964.74L842.69,1966.26L844.00,1967.79L845.29,1969.33L846.57,1970.89L847.84,1972.45L849.10,1974.02L850.34,1975.61L851.57,1977.21L852.78,1978.81L853.98,1980.43L855.17,1982.05L856.34,1983.69L857.50,1985.33L858.64,1986.99L859.76,1988.65L860.87,1990.33L861.95,1992.02L863.01,1993.72L864.04,1995.44L865.05,1997.17L866.02,1998.92L866.97,2000.68L867.88,2002.46L868.75,2004.26L869.59,2006.07L870.39,2007.91L871.15,2009.76L871.87,2011.63L872.56,2013.51L873.21,2015.40L873.82,2017.30L874.38,2019.22L874.89,2021.15L875.34,2023.10L875.73,2025.05L876.06,2027.02L876.34,2028.99L876.56,2030.98L876.72,2032.97L876.85,2034.96L876.94,2036.97L877.00,2038.97L877.05,2040.98L877.09,2042.99L877.00,2076.20" fill="none" stroke="#464646" stroke-width="2.3" stroke-linejoin="round"/>
<path d="M200.37,1711.30L200.50,1713.31L200.63,1715.32L200.78,1717.32L200.93,1719.33L201.10,1721.33L201.28,1723.33L201.48,1725.33L201.70,1727.32L201.95,1729.32L202.22,1731.30L202.51,1733.29L202.84,1735.26L203.19,1737.23L203.58,1739.20L204.00,1741.15L204.46,1743.10L204.95,1745.04L205.47,1746.96L206.04,1748.88L206.65,1750.78L207.30,1752.66L207.99,1754.53L208.74,1756.38L209.53,1758.20L210.38,1760.01L211.29,1761.79L212.24,1763.54L213.26,1765.25L214.33,1766.93L215.46,1768.58L216.64,1770.19L217.88,1771.76L219.16,1773.29L220.50,1774.79L221.87,1776.24L223.29,1777.65L224.75,1779.02L226.24,1780.36L227.77,1781.65L229.32,1782.92L230.91,1784.14L232.51,1785.33L234.15,1786.49L235.80,1787.62L237.48,1788.71L239.18,1789.77L240.90,1790.79L242.64,1791.79L244.39,1792.75L246.16,1793.68L247.95,1794.57L249.75,1795.44L251.57,1796.27L253.40,1797.07L255.25,1797.83L257.11,1798.57L258.98,1799.27L260.86,1799.94L262.75,1800.57L264.65,1801.18L266.57,1801.76L268.49,1802.31L270.41,1802.83L272.35,1803.32L274.29,1803.79L276.24,1804.24L278.19,1804.66L280.15,1805.07L282.11,1805.45L284.08,1805.82L286.05,1806.17L288.02,1806.50L290.00,1806.81L291.98,1807.12L293.96,1807.40L295.95,1807.68L297.93,1807.94L299.92,1808.19L301.92,1808.42L303.91,1808.65L305.90,1808.87L307.90,1809.08L309.90,1809.28L311.90,1809.47L313.90,1809.66L315.90,1809.84L317.90,1810.02L319.90,1810.19L321.90,1810.36L323.90,1810.53L325.90,1810.69L327.90,1810.85L329.89,1811.01L331.89,1811.17L333.89,1811.32L335.89,1811.48L337.89,1811.63L339.89,1811.78L341.89,1811.93L343.88,1812.07L345.88,1812.22L347.88,1812.36L349.88,1812.51L351.87,1812.65L353.87,1812.80L355.87,1812.94L357.87,1813.08L359.86,1813.23L361.86,1813.37L363.86,1813.52L365.85,1813.66L367.85,1813.81L369.85,1813.95L371.84,1814.10L373.84,1814.25L375.83,1814.40L377.83,1814.55L379.83,1814.70L381.82,1814.85L383.82,1815.00L385.81,1815.15L387.81,1815.31L389.80,1815.46L391.80,1815.62L393.79,1815.78L395.79,1815.94L397.78,1816.10L399.77,1816.26L401.77,1816.43L403.76,1816.59L405.76,1816.76L407.75,1816.93L409.74,1817.10L411.74,1817.28L413.73,1817.45L415.72,1817.63L417.71,1817.81L419.71,1817.99L421.70,1818.17L423.69,1818.36L425.68,1818.54L427.68,1818.73L429.67,1818.93L431.66,1819.12L433.65,1819.32L435.64,1819.52L437.63,1819.72L439.62,1819.92L441.61,1820.13L443.60,1820.34L445.59,1820.55L447.58,1820.77L449.57,1820.98L451.56,1821.20L453.55,1821.43L455.54,1821.65L457.53,1821.88L459.52,1822.11L461.50,1822.34L463.49,1822.58L465.48,1822.81L467.47,1823.05L469.45,1823.30L471.44,1823.54L473.43,1823.79L475.41,1824.04L477.40,1824.30L479.39,1824.55L481.37,1824.81L483.36,1825.08L485.34,1825.34L487.33,1825.61L489.31,1825.88L491.29,1826.16L493.28,1826.44L495.26,1826.73L497.24,1827.01L499.22,1827.31L501.20,1827.61L503.18,1827.91L505.16,1828.22L507.13,1828.53L509.11,1828.85L511.09,1829.18L513.06,1829.51L515.03,1829.85L517.00,1830.20L518.97,1830.55L520.94,1830.91L522.91,1831.28L524.87,1831.65L526.84,1832.03L528.80,1832.42L530.76,1832.82L532.72,1833.23L534.68,1833.64L536.63,1834.06L538.59,1834.50L540.54,1834.94L542.49,1835.39L544.43,1835.85L546.38,1836.32L548.32,1836.81L550.26,1837.30L552.20,1837.81L554.13,1838.33L556.06,1838.86L557.99,1839.40L559.91,1839.95L561.84,1840.52L563.75,1841.10L565.67,1841.70L567.58,1842.32L569.48,1842.95L571.38,1843.59L573.27,1844.26L575.16,1844.95L577.04,1845.65L578.92,1846.38L580.78,1847.13L582.64,1847.91L584.50,1848.71L586.34,1849.53L588.17,1850.38L589.98,1851.27L591.76,1852.20L593.51,1853.19L595.22,1854.22L596.89,1855.32L598.50,1856.48L600.05,1857.72L601.54,1859.04L602.95,1860.43L604.30,1861.90L605.57,1863.43L606.76,1865.02L607.87,1866.67L608.89,1868.38L609.84,1870.13L610.71,1871.93L611.50,1873.76L612.21,1875.63L612.86,1877.53L613.44,1879.46L613.96,1881.40L614.44,1883.37L614.88,1885.34L615.30,1887.33L615.71,1889.32L616.11,1891.31L616.52,1893.29L616.94,1895.27L617.39,1897.23L617.88,1899.18L618.42,1901.10L619.02,1902.99L619.68,1904.85L620.43,1906.67L621.27,1908.45L622.21,1910.17L623.24,1911.83L624.37,1913.43L625.60,1914.96L626.90,1916.44L628.26,1917.85L629.69,1919.21L631.16,1920.53L632.68,1921.80L634.24,1923.04L635.83,1924.24L637.45,1925.42L639.09,1926.58L640.75,1927.71L642.43,1928.83L644.12,1929.93L645.81,1931.03L647.52,1932.12L649.23,1933.20L650.93,1934.28L652.64,1935.36L654.35,1936.44L656.06,1937.52L657.76,1938.60L659.46,1939.69L661.16,1940.77L662.85,1941.87L664.54,1942.96L666.23,1944.05L667.91,1945.15L669.60,1946.25L671.28,1947.36L672.95,1948.46L674.63,1949.57L676.30,1950.68L677.96,1951.80L679.63,1952.91L681.29,1954.03L682.95,1955.15L684.61,1956.28L686.27,1957.41L687.92,1958.54L689.57,1959.67L691.22,1960.81L692.86,1961.95L694.50,1963.10L696.14,1964.25L697.77,1965.41L699.40,1966.57L701.02,1967.73L702.65,1968.90L704.26,1970.08L705.88,1971.26L707.49,1972.45L709.09,1973.64L710.70,1974.84L712.29,1976.04L713.89,1977.25L715.48,1978.46L717.06,1979.68L718.65,1980.90L720.23,1982.13L721.80,1983.37L723.37,1984.60L724.94,1985.85L726.51,1987.10L728.07,1988.35L729.62,1989.60L731.18,1990.87L732.73,1992.13L734.27,1993.40L735.82,1994.68L737.36,1995.96L738.89,1997.24L740.42,1998.53L741.95,1999.82L743.47,2001.12L744.99,2002.43L746.50,2003.74L748.01,2005.05L749.51,2006.37L751.01,2007.70L752.51,2009.03L754.00,2010.37L755.48,2011.71L756.96,2013.06L758.43,2014.42L759.90,2015.78L761.36,2017.15L762.81,2018.52L764.26,2019.90L765.71,2021.28L767.14,2022.68L768.58,2024.07L770.00,2025.48L771.42,2026.89L772.84,2028.30L774.24,2029.73L775.64,2031.16L777.04,2032.59L778.43,2034.03L779.81,2035.48L781.18,2036.94L782.55,2038.40L783.91,2039.86L785.27,2041.33L786.62,2042.81L787.96,2044.30L789.30,2045.79L790.63,2047.28L791.95,2048.79L793.27,2050.29L794.58,2051.81L795.89,2053.32L797.19,2054.85L798.48,2056.38L799.77,2057.91L801.05,2059.45L802.32,2060.99L803.59,2062.54L804.85,2064.10L806.10,2065.66L807.35,2067.23L808.59,2068.80L809.83,2070.38L811.05,2071.96L812.27,2073.55L813.48,2075.14L814.69,2076.74L815.89,2078.34L817.08,2079.95L818.26,2081.57L819.43,2083.19L820.60,2084.82L821.76,2086.45L822.90,2088.09L824.04,2089.73L825.17,2091.39L826.29,2093.04L827.40,2094.71L828.50,2096.38L829.58,2098.06L830.66,2099.75L831.72,2101.44L832.77,2103.14L833.81,2104.85L834.83,2106.57L835.85,2108.30L836.85,2110.03L837.84,2111.77L838.81,2113.52L839.78,2115.27L840.73,2117.03L841.68,2118.79L842.61,2120.56L843.53,2122.34L844.45,2124.12L845.35,2125.91L846.25,2127.70L847.14,2129.49L848.01,2131.29L848.89,2133.09L849.75,2134.90L850.60,2136.71L851.44,2138.53L852.27,2140.35L853.09,2142.18L853.89,2144.01L854.69,2145.84L855.47,2147.68L856.23,2149.53L856.98,2151.38L857.71,2153.24L858.43,2155.11L859.13,2156.98L859.81,2158.85L860.48,2160.74L861.13,2162.63L861.77,2164.52L862.39,2166.42L862.99,2168.32L863.58,2170.23L864.16,2172.15L864.72,2174.06L865.27,2175.99L865.81,2177.91L866.33,2179.84L866.84,2181.78L867.34,2183.72L867.83,2185.66L868.30,2187.60L868.77,2189.55L869.22,2191.50L869.67,2193.45L870.10,2195.40L870.53,2197.36L870.95,2199.32L871.36,2201.28L871.77,2203.24L872.17,2205.20L872.57,2207.17L872.96,2209.13L873.35,2211.10L873.74,2213.06L874.12,2215.03L874.51,2217.00" fill="none" stroke="#ef3030" stroke-width="2.3" stroke-linejoin="round"/>
<rect x="143.4" y="1637.3" width="798.5" height="644.6" fill="none" stroke="#000" stroke-width="2.3"/>
<path d="M143.4,2281.9v6 M200.44,2281.9v12 M257.47,2281.9v6 M314.51,2281.9v12 M371.54,2281.9v6 M428.58,2281.9v12 M485.61,2281.9v6 M542.65,2281.9v12 M599.69,2281.9v6 M656.72,2281.9v12 M713.76,2281.9v6 M770.79,2281.9v12 M827.83,2281.9v6 M884.86,2281.9v12 M941.9,2281.9v6 M143.4,2281.9h-12 M143.4,2228.18h-6 M143.4,2174.47h-12 M143.4,2120.75h-6 M143.4,2067.03h-12 M143.4,2013.32h-6 M143.4,1959.6h-12 M143.4,1905.88h-6 M143.4,1852.17h-12 M143.4,1798.45h-6 M143.4,1744.73h-12 M143.4,1691.02h-6 M143.4,1637.3h-12" stroke="#000" stroke-width="2.3" fill="none"/>
<text transform="translate(200.44,2324.5) scale(1,1.04)" font-size="28" text-anchor="middle">0</text>
<text transform="translate(314.51,2324.5) scale(1,1.04)" font-size="28" text-anchor="middle">20</text>
<text transform="translate(428.58,2324.5) scale(1,1.04)" font-size="28" text-anchor="middle">40</text>
<text transform="translate(542.65,2324.5) scale(1,1.04)" font-size="28" text-anchor="middle">60</text>
<text transform="translate(656.72,2324.5) scale(1,1.04)" font-size="28" text-anchor="middle">80</text>
<text transform="translate(770.79,2324.5) scale(1,1.04)" font-size="28" text-anchor="middle">100</text>
<text transform="translate(884.86,2324.5) scale(1,1.04)" font-size="28" text-anchor="middle">120</text>
<text transform="translate(122.5,2291.4) scale(1,1.04)" font-size="28" text-anchor="end">1.0</text>
<text transform="translate(122.5,2183.97) scale(1,1.04)" font-size="28" text-anchor="end">1.5</text>
<text transform="translate(122.5,2076.53) scale(1,1.04)" font-size="28" text-anchor="end">2.0</text>
<text transform="translate(122.5,1969.1) scale(1,1.04)" font-size="28" text-anchor="end">2.5</text>
<text transform="translate(122.5,1861.67) scale(1,1.04)" font-size="28" text-anchor="end">3.0</text>
<text transform="translate(122.5,1754.23) scale(1,1.04)" font-size="28" text-anchor="end">3.5</text>
<text transform="translate(122.5,1646.8) scale(1,1.04)" font-size="28" text-anchor="end">4.0</text>
<text transform="translate(543,2376.3) scale(1,1.04)" font-size="33.5" text-anchor="middle">Specific capacity (mAh/g)</text>
<text transform="translate(47,1943.4) rotate(-90) scale(1,1.04)" font-size="34" text-anchor="middle">Voltage (V)</text>
<text transform="translate(891.5,1697.3) scale(1,1.0)" font-size="50">c</text>
<line x1="428.5" y1="1798.4" x2="428.5" y2="1803.5" stroke="#000" stroke-width="1.6"/>
<path d="M428.5,1782.4 L424.3,1799.4 L432.7,1799.4Z M428.5,1819.5 L424.3,1802.5 L432.7,1802.5Z" fill="#000"/>
<text transform="translate(348.8,1809.3) scale(1,1.04)" font-size="24">167mV</text>
<rect x="237.4" y="2018" width="377.6" height="87.5" fill="#fff" stroke="#000" stroke-width="1.2"/>
<line x1="241.6" y1="2041" x2="317" y2="2041" stroke="#464646" stroke-width="2.3"/>
<line x1="241.6" y1="2082.4" x2="317" y2="2082.4" stroke="#ef3030" stroke-width="2.3"/>
<text transform="translate(325.5,2052.8) scale(1,1.04)" font-size="33.5">Cycle 50 charge</text>
<text transform="translate(325.5,2094) scale(1,1.04)" font-size="33.5">Cycle 50 discharge</text>
</svg>
</body></html>
